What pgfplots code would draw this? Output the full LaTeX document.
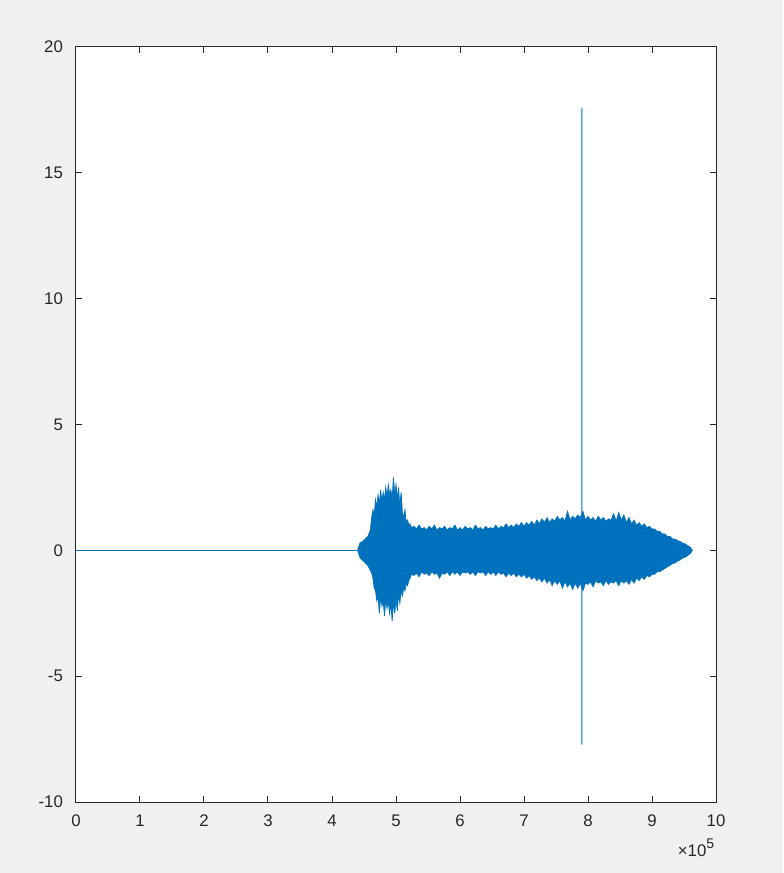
\documentclass[border=0pt]{standalone}
\usepackage{fontspec}
\setmainfont{Liberation Sans}
\usepackage{pgfplots}
\pgfplotsset{compat=1.18}
\definecolor{figgray}{HTML}{F0F0F0}
\definecolor{axgray}{HTML}{262626}
\definecolor{mblue}{HTML}{0072BD}

\begin{document}
\begin{tikzpicture}
\fill[figgray] (-38pt,-35.5pt) rectangle (353.5pt,401pt);
\begin{axis}[
  at={(0pt,0pt)}, anchor=south west,
  scale only axis,
  width=320pt, height=377.5pt,
  xmin=0, xmax=10, ymin=-10, ymax=20,
  xtick={0,1,...,10}, ytick={-10,-5,0,5,10,15,20},
  axis background/.style={fill=white},
  axis line style={axgray, line width=0.5pt},
  tick style={axgray, line width=0.5pt},
  tick align=inside,
  major tick length=3pt,
  font=\fontsize{8.4}{10}\selectfont,
  tick label style={text=axgray},
  xticklabel style={yshift=-3pt},
  yticklabel style={xshift=-3pt},
  /pgf/number format/assume math mode=true,
  clip mode=individual,
]
% flat part before the signal starts
\addplot[mblue, line width=0.4pt] coordinates {(0,0) (4.40,0)};
% envelope of the dense signal (upper edge, then lower edge back)
\addplot[mblue, fill=mblue, line width=0.4pt] coordinates {
(4.40,0) (4.42,0.15) (4.44,0.3) (4.48,0.35) (4.52,0.45) (4.56,0.55) (4.60,0.8)
(4.62,1.3) (4.64,1.6) (4.66,1.4) (4.68,2.0) (4.70,1.7) (4.72,2.2) (4.74,1.8)
(4.76,2.4) (4.78,1.9) (4.80,2.3) (4.82,2.0) (4.84,2.5) (4.86,2.1) (4.88,2.6)
(4.90,2.2) (4.92,2.4) (4.94,2.0) (4.96,2.9) (4.98,2.2) (5.00,2.6) (5.02,2.0)
(5.04,2.5) (5.06,1.7) (5.08,2.3) (5.10,1.5) (5.12,1.3) (5.14,1.6) (5.16,1.1)
(5.18,1.2) (5.20,1.0) (5.22,1.05) (5.24,0.9)
(5.28,0.95) (5.32,0.85) (5.36,1.0) (5.40,0.85) (5.44,0.9) (5.48,0.8) (5.52,0.95)
(5.56,0.85) (5.60,1.0) (5.64,0.8) (5.68,0.9) (5.72,0.85) (5.76,0.95) (5.80,0.8)
(5.84,0.9) (5.88,0.85) (5.92,1.0) (5.96,0.8) (6.00,0.9) (6.04,0.8) (6.08,0.95)
(6.12,0.85) (6.16,0.9) (6.20,0.8) (6.24,1.0) (6.28,0.85) (6.32,0.9) (6.36,0.8)
(6.40,0.95) (6.44,0.85) (6.48,0.9) (6.52,0.85) (6.56,1.0) (6.60,0.85) (6.64,0.95)
(6.68,0.9) (6.72,1.05) (6.76,0.9) (6.80,1.0) (6.84,0.9) (6.88,1.05) (6.92,0.95)
(6.96,1.1) (7.00,0.95) (7.04,1.1) (7.08,1.0) (7.12,1.15) (7.16,1.0) (7.20,1.2)
(7.24,1.05) (7.28,1.25) (7.32,1.1) (7.36,1.3) (7.40,1.1) (7.44,1.25) (7.48,1.15)
(7.52,1.35) (7.56,1.2) (7.60,1.3) (7.64,1.15) (7.68,1.55) (7.72,1.2) (7.76,1.35)
(7.80,1.25) (7.84,1.4) (7.88,1.3) (7.92,1.55) (7.96,1.2) (8.00,1.35) (8.04,1.2)
(8.08,1.3) (8.12,1.15) (8.16,1.35) (8.20,1.2) (8.24,1.3) (8.28,1.15) (8.32,1.25)
(8.36,1.2) (8.40,1.45) (8.44,1.15) (8.48,1.5) (8.52,1.2) (8.56,1.4) (8.60,1.1)
(8.64,1.3) (8.68,1.05) (8.72,1.2) (8.76,1.0) (8.80,1.1) (8.84,0.95) (8.88,1.05)
(8.92,0.9) (8.96,0.95) (9.00,0.85) (9.04,0.85) (9.08,0.75) (9.12,0.75) (9.16,0.65)
(9.20,0.65) (9.24,0.55) (9.28,0.55) (9.32,0.45) (9.36,0.45) (9.40,0.38) (9.44,0.35)
(9.48,0.28) (9.52,0.25) (9.56,0.18) (9.60,0.12) (9.63,0)
(9.60,-0.12) (9.56,-0.2) (9.52,-0.27) (9.48,-0.3) (9.44,-0.38) (9.40,-0.42)
(9.36,-0.5) (9.32,-0.52) (9.28,-0.6) (9.24,-0.65) (9.20,-0.72) (9.16,-0.78)
(9.12,-0.85) (9.08,-0.85) (9.04,-0.95) (9.00,-0.95) (8.96,-1.05) (8.92,-1.0)
(8.88,-1.15) (8.84,-1.05) (8.80,-1.2) (8.76,-1.1) (8.72,-1.3) (8.68,-1.15)
(8.64,-1.35) (8.60,-1.2) (8.56,-1.3) (8.52,-1.2) (8.48,-1.4) (8.44,-1.2)
(8.40,-1.3) (8.36,-1.25) (8.32,-1.35) (8.28,-1.2) (8.24,-1.4) (8.20,-1.25)
(8.16,-1.3) (8.12,-1.2) (8.08,-1.45) (8.04,-1.25) (8.00,-1.35) (7.96,-1.3)
(7.92,-1.6) (7.88,-1.3) (7.84,-1.5) (7.80,-1.3) (7.76,-1.55) (7.72,-1.3)
(7.68,-1.45) (7.64,-1.25) (7.60,-1.5) (7.56,-1.2) (7.52,-1.35) (7.48,-1.2)
(7.44,-1.4) (7.40,-1.15) (7.36,-1.3) (7.32,-1.1) (7.28,-1.25) (7.24,-1.1)
(7.20,-1.2) (7.16,-1.05) (7.12,-1.15) (7.08,-1.0) (7.04,-1.1) (7.00,-0.95)
(6.96,-1.05) (6.92,-0.95) (6.88,-1.05) (6.84,-0.9) (6.80,-1.0) (6.76,-0.9)
(6.72,-1.05) (6.68,-0.9) (6.64,-0.95) (6.60,-0.85) (6.56,-1.0) (6.52,-0.85)
(6.48,-0.95) (6.44,-0.85) (6.40,-1.0) (6.36,-0.85) (6.32,-0.9) (6.28,-0.85)
(6.24,-1.0) (6.20,-0.85) (6.16,-0.95) (6.12,-0.85) (6.08,-0.9) (6.04,-0.85)
(6.00,-1.0) (5.96,-0.85) (5.92,-0.95) (5.88,-0.85) (5.84,-1.0) (5.80,-0.85)
(5.76,-0.95) (5.72,-0.9) (5.68,-1.1) (5.64,-0.9) (5.60,-0.95) (5.56,-0.85)
(5.52,-1.0) (5.48,-0.9) (5.44,-0.95) (5.40,-0.85) (5.36,-1.05) (5.32,-0.9)
(5.28,-1.0) (5.24,-0.95) (5.22,-1.1) (5.20,-1.2) (5.18,-1.4) (5.16,-1.3)
(5.14,-1.6) (5.12,-1.5) (5.10,-1.8) (5.08,-1.6) (5.06,-2.1) (5.04,-1.7)
(5.02,-2.4) (5.00,-1.9) (4.98,-2.5) (4.96,-2.0) (4.94,-2.8) (4.92,-2.1)
(4.90,-2.5) (4.88,-2.0) (4.86,-2.3) (4.84,-1.9) (4.82,-2.6) (4.80,-2.0)
(4.78,-2.2) (4.76,-1.8) (4.74,-2.5) (4.72,-1.8) (4.70,-2.0) (4.68,-1.6)
(4.66,-1.5) (4.64,-1.1) (4.62,-0.9) (4.60,-0.8) (4.56,-0.6) (4.52,-0.5)
(4.48,-0.4) (4.44,-0.3) (4.42,-0.15) (4.40,0)
} -- cycle;
% the single spike
\addplot[mblue, line width=0.5pt] coordinates {(7.905,17.59) (7.906,-7.72)};
\end{axis}
\node[text=axgray, font=\fontsize{8.4}{10}\selectfont, anchor=base] at (310pt,-27pt) {×10\raisebox{0.8ex}{\fontsize{7}{8}\selectfont 5}};
\pgfresetboundingbox
\useasboundingbox (-38pt,-35.5pt) rectangle (353.5pt,401pt);
\end{tikzpicture}
\end{document}
